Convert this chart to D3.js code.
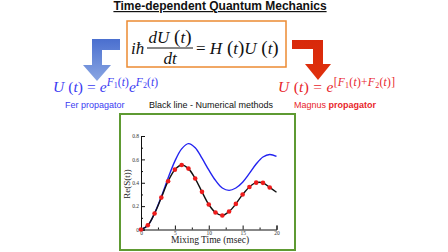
<!DOCTYPE html>
<html><head><meta charset="utf-8">
<script src="https://cdn.jsdelivr.net/npm/d3@7"></script>
<style>
html,body{margin:0;padding:0;background:#fff;}
svg{display:block;}
</style></head>
<body>
<svg id="c" width="448" height="252"></svg>
<script>
// ---- data ----
const times = [0,1,2,3,4,5,6,7,8,9,10,11,12,13,14,15,16,17,18,19,20];
const numerical = [0,0.035,0.137,0.273,0.413,0.512,0.552,0.521,0.436,0.322,0.214,0.145,0.12,0.154,0.219,0.299,0.364,0.401,0.399,0.359,0.319];
const magnusTimes = [0,1,2,3,4,5,6,7,8,9,10,11,12,13,14,15,16,17,18,19];
const magnus = [0,0.037,0.137,0.273,0.413,0.512,0.552,0.521,0.436,0.322,0.214,0.145,0.12,0.154,0.219,0.299,0.364,0.401,0.399,0.359];
const fer = [0,0.035,0.14,0.28,0.44,0.585,0.69,0.735,0.7,0.61,0.51,0.42,0.355,0.335,0.355,0.405,0.48,0.56,0.62,0.642,0.625];
const yTicks = [0,0.2,0.4,0.6,0.8];
const xTicks = [0,5,10,15,20];

const svg = d3.select("#c");

// title
svg.append("text").attr("x",220).attr("y",10).attr("text-anchor","middle")
  .attr("font-family","Liberation Sans, Arial, sans-serif").attr("font-weight","bold")
  .attr("font-size",12).attr("text-decoration","underline").attr("fill","#111")
  .text("Time-dependent Quantum Mechanics");

// gradients
const defs = svg.append("defs");
const gb = defs.append("linearGradient").attr("id","gb").attr("x1",0).attr("y1",0).attr("x2",0).attr("y2",1);
gb.append("stop").attr("offset","0%").attr("stop-color","#4a6fcf");
gb.append("stop").attr("offset","100%").attr("stop-color","#8aa6e2");
const gr = defs.append("linearGradient").attr("id","gr").attr("x1",0).attr("y1",0).attr("x2",0).attr("y2",1);
gr.append("stop").attr("offset","0%").attr("stop-color","#d8290b");
gr.append("stop").attr("offset","100%").attr("stop-color","#e0300c");

// blue arrow
svg.append("path").attr("fill","url(#gb)")
  .attr("d","M120,39 L92,39 L92,65 L83,65 L97,81 L111,65 L102,65 L102,50 L120,50 Z");
// red arrow
svg.append("path").attr("fill","url(#gr)")
  .attr("d","M292,40 L323,40 L323,64 L331,64 L318,80 L305,64 L313,64 L313,49 L292,49 Z");

// equation box
svg.append("rect").attr("x",127).attr("y",21).attr("width",159).attr("height",46)
  .attr("fill","#fff").attr("stroke","#ec8a32").attr("stroke-width",1.5);
const serif = "Liberation Serif, Times New Roman, serif";
const eq = svg.append("g").attr("font-family",serif).attr("font-style","italic").attr("fill","#111");
eq.append("text").attr("x",131).attr("y",54).attr("font-size",17).text("iħ");
const num = eq.append("text").attr("x",170).attr("y",43).attr("text-anchor","middle").attr("font-size",17);
num.append("tspan").text("dU");
num.append("tspan").attr("font-style","normal").attr("font-size",19).text(" (");
num.append("tspan").text("t");
num.append("tspan").attr("font-style","normal").attr("font-size",19).text(")");
eq.append("line").attr("x1",147).attr("x2",193).attr("y1",48).attr("y2",48).attr("stroke","#111").attr("stroke-width",1);
eq.append("text").attr("x",170).attr("y",64).attr("text-anchor","middle").attr("font-size",17).text("dt");
const rhs = eq.append("text").attr("x",196).attr("y",54).attr("font-size",17);
rhs.append("tspan").attr("font-style","normal").text("= ");
rhs.append("tspan").text("H");
rhs.append("tspan").attr("font-style","normal").attr("font-size",19).text(" (");
rhs.append("tspan").text("t");
rhs.append("tspan").attr("font-style","normal").attr("font-size",19).text(")");
rhs.append("tspan").text("U");
rhs.append("tspan").attr("font-style","normal").attr("font-size",19).text(" (");
rhs.append("tspan").text("t");
rhs.append("tspan").attr("font-style","normal").attr("font-size",19).text(")");

// formulas
function formula(x, y, color, len, parts){
  const t = svg.append("text").attr("x",x).attr("y",y).attr("font-family",serif).attr("font-size",15.5)
    .attr("fill",color).attr("textLength",len).attr("lengthAdjust","spacing");
  parts.forEach(p=>{
    const s = t.append("tspan").text(p[0]);
    if(p[1]) s.attr("font-style","italic");
    if(p[2]) s.attr("font-size",p[2]);
    if(p[3]!==undefined) s.attr("dy",p[3]);
  });
  return t;
}
formula(53,92,"#3b3bf2",105,[
  ["U",1],[" (",0],["t",1],[") = ",0],["e",1],
  ["F",1,11.5,-6],["1",0,8,2],["(",0,11.5,-2],["t",1,11.5],[")",0,11.5],
  ["e",1,15.5,6],["F",1,11.5,-6],["2",0,8,2],["(",0,11.5,-2],["t",1,11.5],[")",0,11.5]
]);
formula(278,92,"#e8242a",117,[
  ["U",1],[" (",0],["t",1],[") = ",0],["e",1],
  ["[",0,11.5,-6],["F",1,11.5],["1",0,8,2],["(",0,11.5,-2],["t",1,11.5],[")+",0,11.5],
  ["F",1,11.5],["2",0,8,2],["(",0,11.5,-2],["t",1,11.5],[")]",0,11.5]
]);

const sans = "Liberation Sans, Arial, sans-serif";
svg.append("text").attr("x",65).attr("y",108).attr("font-family",sans).attr("font-size",9).attr("fill","#3b3bf2").text("Fer propagator");
const mg = svg.append("text").attr("x",294).attr("y",108).attr("font-family",sans).attr("font-size",9).attr("fill","#e8242a");
mg.append("tspan").text("Magnus ");
mg.append("tspan").attr("font-weight","bold").text("propagator");
svg.append("text").attr("x",149).attr("y",108).attr("font-family",sans).attr("font-size",9).attr("fill","#111").text("Black line - Numerical methods");

// green box
svg.append("rect").attr("x",120).attr("y",114).attr("width",175).attr("height",136)
  .attr("fill","#fff").attr("stroke","#5e9a32").attr("stroke-width",2);

// plot
const x = d3.scaleLinear().domain([0,20]).range([141,276.5]);
const y = d3.scaleLinear().domain([0,0.8]).range([229.5,136]);

svg.append("g").attr("transform","translate(141,0)")
  .call(d3.axisLeft(y).tickValues(yTicks).tickSize(-4).tickPadding(2).tickFormat(d=>d===0?"0":d3.format(".1f")(d)));
svg.append("g").attr("transform","translate(141,0)")
  .call(d3.axisLeft(y).tickValues([0.1,0.3,0.5,0.7]).tickSize(-2).tickFormat(""))
  .select(".domain").remove();
svg.append("g").attr("transform","translate(0,229.5)")
  .call(d3.axisBottom(x).tickValues(xTicks).tickSize(-4).tickPadding(2));
svg.append("g").attr("transform","translate(0,229.5)")
  .call(d3.axisBottom(x).tickValues([2.5,7.5,12.5,17.5]).tickSize(-2).tickFormat(""))
  .select(".domain").remove();
svg.selectAll(".domain").attr("stroke","#111").attr("stroke-width",1);
svg.selectAll(".tick line").attr("stroke","#111");
svg.selectAll(".tick text").attr("font-family",serif).attr("font-size",5.5).attr("fill","#333");

svg.append("text").attr("x",210).attr("y",243).attr("text-anchor","middle").attr("font-family",serif)
  .attr("font-size",9.5).attr("fill","#222").text("Mixing Time (msec)");
svg.append("text").attr("transform","translate(130,184) rotate(-90)").attr("text-anchor","middle")
  .attr("font-family",serif).attr("font-size",9).attr("fill","#222").text("Re(S(t))");

const line = d3.line().x(d=>x(d[0])).y(d=>y(d[1])).curve(d3.curveCatmullRom);
svg.append("path").datum(times.map((t,i)=>[t,fer[i]])).attr("d",line)
  .attr("fill","none").attr("stroke","#2323f0").attr("stroke-width",1.4);
svg.append("path").datum(times.map((t,i)=>[t,numerical[i]])).attr("d",line)
  .attr("fill","none").attr("stroke","#111").attr("stroke-width",1.4);
svg.selectAll("circle.m").data(magnusTimes.map((t,i)=>[t,magnus[i]])).enter().append("circle")
  .attr("class","m").attr("cx",d=>x(d[0])).attr("cy",d=>y(d[1])).attr("r",2.3).attr("fill","#ee1c1c");
</script>
</body></html>
